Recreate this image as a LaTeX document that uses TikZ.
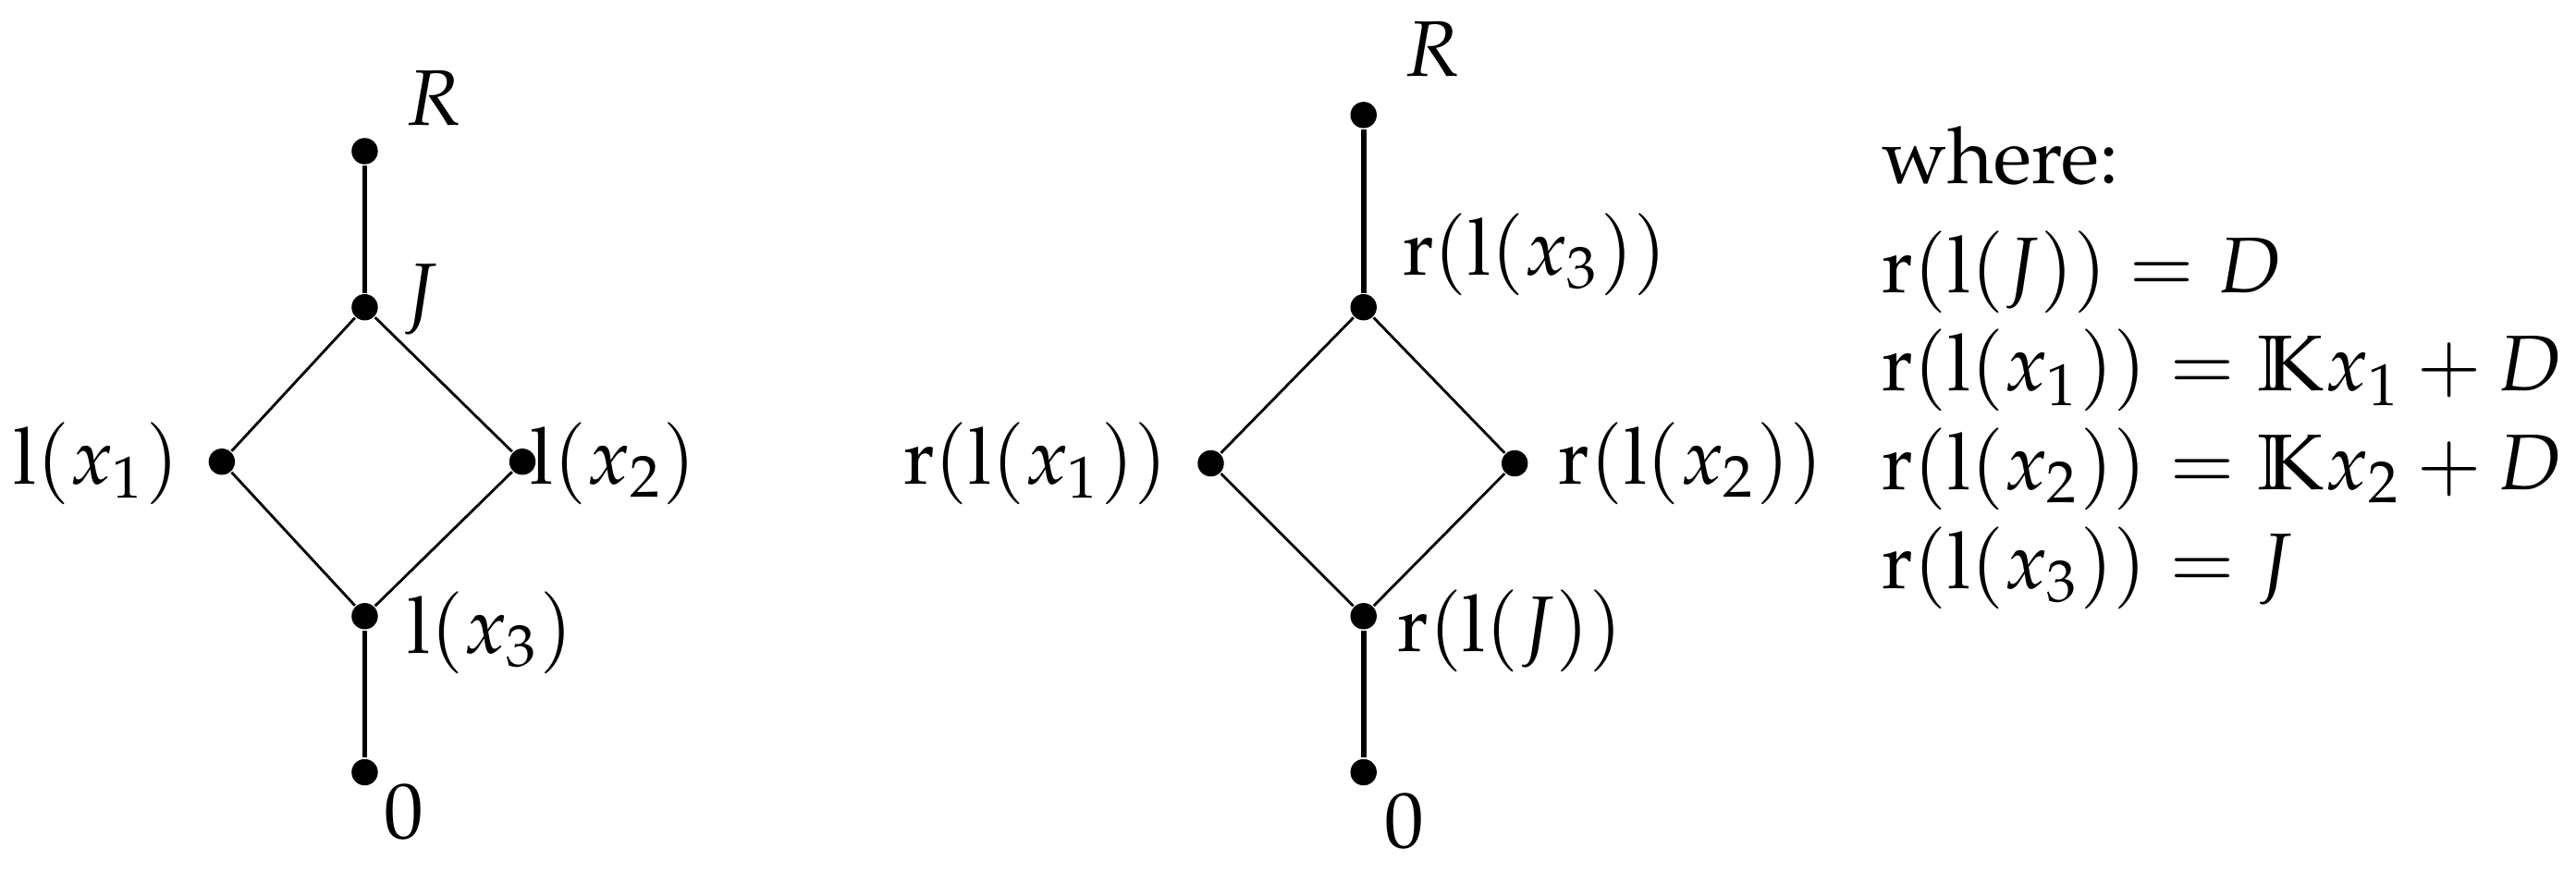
\documentclass[tikz,border=0pt]{standalone}
\usepackage[T1]{fontenc}
\usepackage{amssymb}
\usepackage{mathpazo}
\begin{document}
\begin{tikzpicture}[x=0.25pt,y=-0.25pt,
  dot/.style={circle,fill=black,inner sep=0pt,minimum size=4pt},
  lbl/.style={font=\fontsize{12}{14}\selectfont,inner sep=0pt},
  thick line/.style={line width=0.8pt},
  thin line/.style={line width=0.4pt}]
\useasboundingbox (0,0) rectangle (1568,531);
% left diagram
\node[dot] (aR) at (222,92) {};
\node[dot] (aJ) at (222,187) {};
\node[dot] (a1) at (135,281) {};
\node[dot] (a2) at (318,281) {};
\node[dot] (a3) at (222,375) {};
\node[dot] (a0) at (222,470) {};
\draw[thick line] (aR) -- (aJ);
\draw[thin line] (aJ) -- (a1) -- (a3) -- (a2) -- (aJ);
\draw[thick line] (a3) -- (a0);
\node[lbl] (laR) at (264,60) {$R$};
\node[lbl,anchor=west] (laJ) at (244,182) {$J$};
\node[lbl,anchor=east] (la1) at (110,282) {$\mathrm{l}(x_1)$};
\node[lbl,anchor=west] (la2) at (322,282) {$\mathrm{l}(x_2)$};
\node[lbl,anchor=west] (la3) at (247,385) {$\mathrm{l}(x_3)$};
\node[lbl] (la0) at (246,494) {$0$};
% middle diagram
\node[dot] (bR) at (830,70) {};
\node[dot] (b3) at (830,187) {};
\node[dot] (b1) at (737,282) {};
\node[dot] (b2) at (922,282) {};
\node[dot] (bJ) at (830,375) {};
\node[dot] (b0) at (830,470) {};
\draw[thick line] (bR) -- (b3);
\draw[thin line] (b3) -- (b1) -- (bJ) -- (b2) -- (b3);
\draw[thick line] (bJ) -- (b0);
\node[lbl] (lbR) at (872,30) {$R$};
\node[lbl,anchor=west] (lb3) at (853,155) {$\mathrm{r}(\mathrm{l}(x_3))$};
\node[lbl,anchor=east] (lb1) at (712,282) {$\mathrm{r}(\mathrm{l}(x_1))$};
\node[lbl,anchor=west] (lb2) at (948,282) {$\mathrm{r}(\mathrm{l}(x_2))$};
\node[lbl,anchor=west] (lbJ) at (850,384) {$\mathrm{r}(\mathrm{l}(J))$};
\node[lbl] (lb0) at (855,500) {$0$};
% legend
\node[lbl,anchor=base west] (w0) at (1145,112) {where:};
\node[lbl,anchor=base west] (w1) at (1145,178) {$\mathrm{r}(\mathrm{l}(J)) = D$};
\node[lbl,anchor=base west] (w2) at (1145,238) {$\mathrm{r}(\mathrm{l}(x_1)) = \mathbb{K}x_1 + D$};
\node[lbl,anchor=base west] (w3) at (1145,298) {$\mathrm{r}(\mathrm{l}(x_2)) = \mathbb{K}x_2 + D$};
\node[lbl,anchor=base west] (w4) at (1145,358) {$\mathrm{r}(\mathrm{l}(x_3)) = J$};
\end{tikzpicture}
\end{document}
